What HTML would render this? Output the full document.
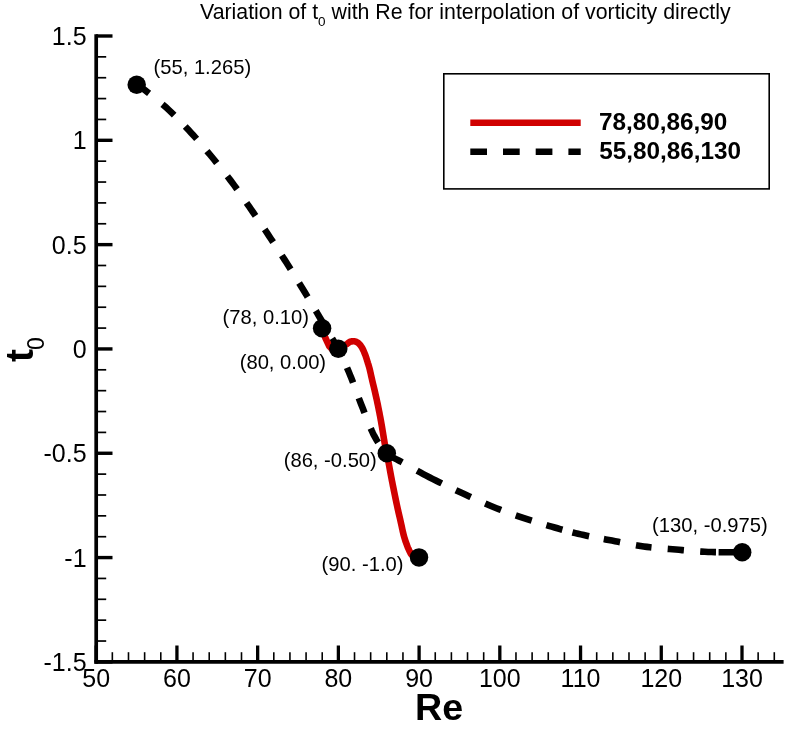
<!DOCTYPE html>
<html><head><meta charset="utf-8"><title>Variation of t0 with Re</title>
<style>
html,body{margin:0;padding:0;background:#fff;width:785px;height:734px;overflow:hidden}
svg{display:block}
text{font-family:"Liberation Sans",Arial,Helvetica,sans-serif;fill:#000}
.tk{font-size:25px}
.pl{font-size:20.2px}
.lg{font-size:24.3px;font-weight:bold}
</style></head><body>
<svg width="785" height="734" viewBox="0 0 785 734">
<rect width="785" height="734" fill="#fff"/>
<text x="200" y="18.5" font-size="21.32">Variation of t<tspan font-size="13.5" dy="7">0</tspan><tspan dy="-7"> with Re for interpolation of vorticity directly</tspan></text>
<line x1="96.2" y1="34.3" x2="96.2" y2="663.7" stroke="#000" stroke-width="3.7"/><line x1="94.35" y1="661.9" x2="783.6" y2="661.9" stroke="#000" stroke-width="3.7"/><line x1="96" y1="36.00" x2="112.5" y2="36.00" stroke="#000" stroke-width="3.4"/><line x1="96" y1="56.86" x2="106.2" y2="56.86" stroke="#000" stroke-width="1.7"/><line x1="96" y1="77.73" x2="106.2" y2="77.73" stroke="#000" stroke-width="1.7"/><line x1="96" y1="98.59" x2="106.2" y2="98.59" stroke="#000" stroke-width="1.7"/><line x1="96" y1="119.45" x2="106.2" y2="119.45" stroke="#000" stroke-width="1.7"/><line x1="96" y1="140.31" x2="112.5" y2="140.31" stroke="#000" stroke-width="3.4"/><line x1="96" y1="161.18" x2="106.2" y2="161.18" stroke="#000" stroke-width="1.7"/><line x1="96" y1="182.04" x2="106.2" y2="182.04" stroke="#000" stroke-width="1.7"/><line x1="96" y1="202.90" x2="106.2" y2="202.90" stroke="#000" stroke-width="1.7"/><line x1="96" y1="223.77" x2="106.2" y2="223.77" stroke="#000" stroke-width="1.7"/><line x1="96" y1="244.63" x2="112.5" y2="244.63" stroke="#000" stroke-width="3.4"/><line x1="96" y1="265.49" x2="106.2" y2="265.49" stroke="#000" stroke-width="1.7"/><line x1="96" y1="286.36" x2="106.2" y2="286.36" stroke="#000" stroke-width="1.7"/><line x1="96" y1="307.22" x2="106.2" y2="307.22" stroke="#000" stroke-width="1.7"/><line x1="96" y1="328.08" x2="106.2" y2="328.08" stroke="#000" stroke-width="1.7"/><line x1="96" y1="348.94" x2="112.5" y2="348.94" stroke="#000" stroke-width="3.4"/><line x1="96" y1="369.81" x2="106.2" y2="369.81" stroke="#000" stroke-width="1.7"/><line x1="96" y1="390.67" x2="106.2" y2="390.67" stroke="#000" stroke-width="1.7"/><line x1="96" y1="411.53" x2="106.2" y2="411.53" stroke="#000" stroke-width="1.7"/><line x1="96" y1="432.40" x2="106.2" y2="432.40" stroke="#000" stroke-width="1.7"/><line x1="96" y1="453.26" x2="112.5" y2="453.26" stroke="#000" stroke-width="3.4"/><line x1="96" y1="474.12" x2="106.2" y2="474.12" stroke="#000" stroke-width="1.7"/><line x1="96" y1="494.99" x2="106.2" y2="494.99" stroke="#000" stroke-width="1.7"/><line x1="96" y1="515.85" x2="106.2" y2="515.85" stroke="#000" stroke-width="1.7"/><line x1="96" y1="536.71" x2="106.2" y2="536.71" stroke="#000" stroke-width="1.7"/><line x1="96" y1="557.58" x2="112.5" y2="557.58" stroke="#000" stroke-width="3.4"/><line x1="96" y1="578.44" x2="106.2" y2="578.44" stroke="#000" stroke-width="1.7"/><line x1="96" y1="599.30" x2="106.2" y2="599.30" stroke="#000" stroke-width="1.7"/><line x1="96" y1="620.16" x2="106.2" y2="620.16" stroke="#000" stroke-width="1.7"/><line x1="96" y1="641.03" x2="106.2" y2="641.03" stroke="#000" stroke-width="1.7"/><line x1="96" y1="661.89" x2="112.5" y2="661.89" stroke="#000" stroke-width="3.4"/><line x1="96.20" y1="662" x2="96.20" y2="645.5" stroke="#000" stroke-width="3.3"/><line x1="112.34" y1="662" x2="112.34" y2="652.2" stroke="#000" stroke-width="1.6"/><line x1="128.49" y1="662" x2="128.49" y2="652.2" stroke="#000" stroke-width="1.6"/><line x1="144.63" y1="662" x2="144.63" y2="652.2" stroke="#000" stroke-width="1.6"/><line x1="160.78" y1="662" x2="160.78" y2="652.2" stroke="#000" stroke-width="1.6"/><line x1="176.93" y1="662" x2="176.93" y2="645.5" stroke="#000" stroke-width="3.3"/><line x1="193.07" y1="662" x2="193.07" y2="652.2" stroke="#000" stroke-width="1.6"/><line x1="209.22" y1="662" x2="209.22" y2="652.2" stroke="#000" stroke-width="1.6"/><line x1="225.36" y1="662" x2="225.36" y2="652.2" stroke="#000" stroke-width="1.6"/><line x1="241.50" y1="662" x2="241.50" y2="652.2" stroke="#000" stroke-width="1.6"/><line x1="257.65" y1="662" x2="257.65" y2="645.5" stroke="#000" stroke-width="3.3"/><line x1="273.80" y1="662" x2="273.80" y2="652.2" stroke="#000" stroke-width="1.6"/><line x1="289.94" y1="662" x2="289.94" y2="652.2" stroke="#000" stroke-width="1.6"/><line x1="306.08" y1="662" x2="306.08" y2="652.2" stroke="#000" stroke-width="1.6"/><line x1="322.23" y1="662" x2="322.23" y2="652.2" stroke="#000" stroke-width="1.6"/><line x1="338.38" y1="662" x2="338.38" y2="645.5" stroke="#000" stroke-width="3.3"/><line x1="354.52" y1="662" x2="354.52" y2="652.2" stroke="#000" stroke-width="1.6"/><line x1="370.66" y1="662" x2="370.66" y2="652.2" stroke="#000" stroke-width="1.6"/><line x1="386.81" y1="662" x2="386.81" y2="652.2" stroke="#000" stroke-width="1.6"/><line x1="402.95" y1="662" x2="402.95" y2="652.2" stroke="#000" stroke-width="1.6"/><line x1="419.10" y1="662" x2="419.10" y2="645.5" stroke="#000" stroke-width="3.3"/><line x1="435.25" y1="662" x2="435.25" y2="652.2" stroke="#000" stroke-width="1.6"/><line x1="451.39" y1="662" x2="451.39" y2="652.2" stroke="#000" stroke-width="1.6"/><line x1="467.53" y1="662" x2="467.53" y2="652.2" stroke="#000" stroke-width="1.6"/><line x1="483.68" y1="662" x2="483.68" y2="652.2" stroke="#000" stroke-width="1.6"/><line x1="499.82" y1="662" x2="499.82" y2="645.5" stroke="#000" stroke-width="3.3"/><line x1="515.97" y1="662" x2="515.97" y2="652.2" stroke="#000" stroke-width="1.6"/><line x1="532.12" y1="662" x2="532.12" y2="652.2" stroke="#000" stroke-width="1.6"/><line x1="548.26" y1="662" x2="548.26" y2="652.2" stroke="#000" stroke-width="1.6"/><line x1="564.40" y1="662" x2="564.40" y2="652.2" stroke="#000" stroke-width="1.6"/><line x1="580.55" y1="662" x2="580.55" y2="645.5" stroke="#000" stroke-width="3.3"/><line x1="596.70" y1="662" x2="596.70" y2="652.2" stroke="#000" stroke-width="1.6"/><line x1="612.84" y1="662" x2="612.84" y2="652.2" stroke="#000" stroke-width="1.6"/><line x1="628.99" y1="662" x2="628.99" y2="652.2" stroke="#000" stroke-width="1.6"/><line x1="645.13" y1="662" x2="645.13" y2="652.2" stroke="#000" stroke-width="1.6"/><line x1="661.27" y1="662" x2="661.27" y2="645.5" stroke="#000" stroke-width="3.3"/><line x1="677.42" y1="662" x2="677.42" y2="652.2" stroke="#000" stroke-width="1.6"/><line x1="693.57" y1="662" x2="693.57" y2="652.2" stroke="#000" stroke-width="1.6"/><line x1="709.71" y1="662" x2="709.71" y2="652.2" stroke="#000" stroke-width="1.6"/><line x1="725.86" y1="662" x2="725.86" y2="652.2" stroke="#000" stroke-width="1.6"/><line x1="742.00" y1="662" x2="742.00" y2="645.5" stroke="#000" stroke-width="3.3"/><line x1="758.14" y1="662" x2="758.14" y2="652.2" stroke="#000" stroke-width="1.6"/><line x1="774.29" y1="662" x2="774.29" y2="652.2" stroke="#000" stroke-width="1.6"/>
<text x="86.6" y="45.10" text-anchor="end" class="tk">1.5</text><text x="86.6" y="149.41" text-anchor="end" class="tk">1</text><text x="86.6" y="253.73" text-anchor="end" class="tk">0.5</text><text x="86.6" y="358.05" text-anchor="end" class="tk">0</text><text x="86.6" y="462.36" text-anchor="end" class="tk">-0.5</text><text x="86.6" y="566.68" text-anchor="end" class="tk">-1</text><text x="86.6" y="670.99" text-anchor="end" class="tk">-1.5</text><text x="96.20" y="686.9" text-anchor="middle" class="tk">50</text><text x="176.93" y="686.9" text-anchor="middle" class="tk">60</text><text x="257.65" y="686.9" text-anchor="middle" class="tk">70</text><text x="338.38" y="686.9" text-anchor="middle" class="tk">80</text><text x="419.10" y="686.9" text-anchor="middle" class="tk">90</text><text x="499.82" y="686.9" text-anchor="middle" class="tk">100</text><text x="580.55" y="686.9" text-anchor="middle" class="tk">110</text><text x="661.27" y="686.9" text-anchor="middle" class="tk">120</text><text x="742.00" y="686.9" text-anchor="middle" class="tk">130</text>
<text x="417.8" y="720" font-size="37.7" font-weight="bold" text-anchor="start" dx="-2.8">Re</text>
<g transform="translate(32.7,362.0) rotate(-90)"><text x="0" y="0" font-size="39" font-weight="bold">t<tspan font-size="23" font-weight="normal" dy="11" dx="-1.0">0</tspan></text></g>
<path d="M136.70,84.80 L137.27,85.12 L137.70,85.33 L138.06,85.47 L138.40,85.59 L138.78,85.75 L139.25,85.99 L139.87,86.37 L140.70,86.92 L141.79,87.72 L143.20,88.80 L144.98,90.19 L147.09,91.85 L149.48,93.73 L152.08,95.80 L154.82,98.01 L157.64,100.31 L160.48,102.67 L163.27,105.03 L165.95,107.35 L168.45,109.60 L170.82,111.81 L173.16,114.05 L175.47,116.31 L177.74,118.60 L180.00,120.90 L182.23,123.23 L184.44,125.57 L186.64,127.92 L188.82,130.28 L191.00,132.65 L193.16,135.03 L195.29,137.41 L197.41,139.82 L199.50,142.23 L201.58,144.66 L203.66,147.10 L205.72,149.55 L207.78,152.02 L209.84,154.50 L211.90,157.00 L213.97,159.51 L216.04,162.05 L218.11,164.60 L220.18,167.16 L222.23,169.73 L224.28,172.32 L226.32,174.92 L228.33,177.52 L230.33,180.13 L232.30,182.75 L234.25,185.38 L236.17,188.02 L238.07,190.67 L239.96,193.34 L241.83,196.01 L243.69,198.68 L245.54,201.35 L247.38,204.03 L249.22,206.69 L251.05,209.35 L252.88,212.00 L254.69,214.65 L256.50,217.29 L258.30,219.94 L260.09,222.58 L261.87,225.22 L263.65,227.86 L265.42,230.51 L267.19,233.15 L268.95,235.80 L270.70,238.45 L272.45,241.09 L274.19,243.72 L275.92,246.36 L277.65,249.00 L279.37,251.65 L281.09,254.30 L282.81,256.97 L284.53,259.65 L286.25,262.35 L287.97,265.07 L289.70,267.80 L291.43,270.55 L293.15,273.31 L294.88,276.08 L296.59,278.85 L298.31,281.63 L300.01,284.40 L301.71,287.18 L303.40,289.95 L305.10,292.75 L306.82,295.62 L308.55,298.51 L310.28,301.42 L312.00,304.31 L313.68,307.17 L315.33,309.95 L316.92,312.66 L318.45,315.25 L319.90,317.70 L321.28,320.04 L322.61,322.31 L323.89,324.50 L325.12,326.61 L326.31,328.63 L327.44,330.58 L328.53,332.44 L329.57,334.22 L330.56,335.90 L331.50,337.50 L332.35,338.90 L333.09,340.05 L333.73,341.01 L334.32,341.86 L334.88,342.68 L335.45,343.53 L336.04,344.49 L336.69,345.62 L337.44,347.00 L338.30,348.70 L339.28,350.71 L340.35,352.96 L341.49,355.41 L342.69,358.02 L343.93,360.76 L345.19,363.59 L346.46,366.49 L347.72,369.41 L348.96,372.33 L350.15,375.20 L351.31,378.08 L352.46,381.02 L353.59,384.02 L354.73,387.05 L355.86,390.12 L356.99,393.21 L358.14,396.30 L359.29,399.39 L360.46,402.46 L361.65,405.50 L362.86,408.58 L364.08,411.74 L365.32,414.95 L366.57,418.18 L367.83,421.37 L369.09,424.50 L370.36,427.54 L371.62,430.43 L372.89,433.15 L374.15,435.65 L375.40,437.95 L376.63,440.10 L377.85,442.11 L379.07,443.98 L380.29,445.74 L381.53,447.39 L382.80,448.95 L384.09,450.43 L385.42,451.84 L386.80,453.20 L388.18,454.43 L389.52,455.47 L390.85,456.37 L392.20,457.17 L393.59,457.91 L395.06,458.64 L396.63,459.41 L398.32,460.24 L400.17,461.19 L402.20,462.30 L404.41,463.55 L406.76,464.89 L409.26,466.30 L411.87,467.78 L414.59,469.31 L417.41,470.87 L420.31,472.46 L423.27,474.06 L426.29,475.66 L429.35,477.25 L432.51,478.86 L435.83,480.51 L439.26,482.20 L442.77,483.92 L446.34,485.63 L449.91,487.34 L453.47,489.03 L456.97,490.68 L460.37,492.27 L463.65,493.80 L466.81,495.27 L469.88,496.69 L472.88,498.07 L475.84,499.42 L478.76,500.74 L481.66,502.03 L484.56,503.30 L487.47,504.55 L490.41,505.78 L493.40,507.00 L496.42,508.20 L499.46,509.38 L502.50,510.54 L505.56,511.67 L508.62,512.79 L511.68,513.88 L514.75,514.96 L517.82,516.02 L520.89,517.07 L523.95,518.10 L527.03,519.12 L530.15,520.13 L533.29,521.12 L536.44,522.10 L539.57,523.06 L542.69,524.00 L545.77,524.92 L548.80,525.81 L551.76,526.67 L554.65,527.50 L557.43,528.29 L560.10,529.05 L562.69,529.78 L565.22,530.47 L567.73,531.15 L570.23,531.81 L572.77,532.46 L575.37,533.10 L578.05,533.75 L580.85,534.40 L583.76,535.05 L586.75,535.69 L589.80,536.32 L592.91,536.95 L596.05,537.57 L599.23,538.18 L602.42,538.79 L605.61,539.39 L608.79,540.00 L611.95,540.60 L615.10,541.21 L618.25,541.84 L621.42,542.47 L624.59,543.10 L627.76,543.72 L630.94,544.32 L634.13,544.91 L637.32,545.46 L640.51,545.98 L643.70,546.45 L646.89,546.87 L650.09,547.26 L653.30,547.60 L656.51,547.92 L659.72,548.22 L662.93,548.49 L666.14,548.76 L669.36,549.02 L672.58,549.28 L675.80,549.55 L679.01,549.83 L682.22,550.11 L685.42,550.39 L688.62,550.66 L691.83,550.92 L695.04,551.17 L698.27,551.40 L701.52,551.61 L704.80,551.80 L708.10,551.95 L711.44,552.07 L714.80,552.15 L718.20,552.21 L721.61,552.24 L725.04,552.25 L728.47,552.26 L731.91,552.26 L735.35,552.26 L738.78,552.27 L742.20,552.30" fill="none" stroke="#000" stroke-width="6.6" stroke-dasharray="15.17 17.32 15.79 15.91 16.90 15.90 15.49 17.01 16.20 16.56 15.79 16.39 15.31 15.86 16.35 16.11 16.41 16.05 16.05 16.02 16.39 16.64 16.04 16.43 15.90 16.67 15.89 13.88 17.96 17.17 27.67 15.70 16.45 15.76 17.15 15.62 16.81 15.38 16.62 10.39 17.06 15.01 16.57 16.17 15.68 16.27 16.27 16.34 15.83 2.59 23.60 10.00" stroke-linejoin="round"/>
<path d="M322.1,328.3 L325.2,337.5 L329.3,346.3 L333,350.2 L338.3,348.7 L342.6,346.3 L346.80,344.10 L347.20,343.80 L347.59,343.48 L347.99,343.16 L348.38,342.84 L348.78,342.53 L349.18,342.25 L349.59,342.00 L350.00,341.80 L350.43,341.64 L350.87,341.52 L351.33,341.44 L351.78,341.38 L352.23,341.34 L352.67,341.31 L353.10,341.30 L353.50,341.30 L353.88,341.31 L354.23,341.33 L354.58,341.36 L354.91,341.41 L355.23,341.48 L355.55,341.57 L355.87,341.67 L356.20,341.80 L356.53,341.95 L356.86,342.11 L357.19,342.29 L357.51,342.49 L357.84,342.71 L358.16,342.96 L358.48,343.22 L358.80,343.50 L359.12,343.81 L359.44,344.13 L359.76,344.48 L360.08,344.85 L360.39,345.24 L360.70,345.64 L361.00,346.06 L361.30,346.50 L361.59,346.95 L361.87,347.41 L362.14,347.88 L362.41,348.37 L362.68,348.89 L362.95,349.43 L363.22,350.00 L363.50,350.60 L363.79,351.25 L364.08,351.94 L364.38,352.67 L364.68,353.42 L364.98,354.18 L365.26,354.94 L365.54,355.68 L365.80,356.40 L366.04,357.09 L366.27,357.78 L366.48,358.45 L366.69,359.12 L366.89,359.79 L367.09,360.45 L367.29,361.12 L367.50,361.80 L367.72,362.48 L367.93,363.17 L368.16,363.86 L368.38,364.55 L368.59,365.24 L368.80,365.93 L369.01,366.62 L369.20,367.30 L369.38,367.98 L369.55,368.65 L369.72,369.31 L369.87,369.97 L370.03,370.64 L370.18,371.32 L370.34,372.00 L370.50,372.70 L370.64,373.33 L370.76,373.86 L370.86,374.35 L370.97,374.87 L371.10,375.49 L371.27,376.28 L371.50,377.29 L371.80,378.60 L372.19,380.27 L372.66,382.25 L373.20,384.47 L373.77,386.85 L374.36,389.31 L374.94,391.78 L375.49,394.17 L376.00,396.40 L376.47,398.53 L376.93,400.64 L377.37,402.74 L377.81,404.81 L378.23,406.84 L378.63,408.84 L379.02,410.80 L379.40,412.70 L379.75,414.52 L380.08,416.25 L380.39,417.91 L380.69,419.55 L380.99,421.19 L381.28,422.85 L381.58,424.58 L381.90,426.40 L382.23,428.35 L382.57,430.43 L382.92,432.58 L383.27,434.75 L383.62,436.90 L383.96,438.97 L384.29,440.92 L384.60,442.70 L384.90,444.29 L385.19,445.74 L385.47,447.08 L385.75,448.34 L386.02,449.55 L386.28,450.75 L386.54,451.95 L386.80,453.20 L387.05,454.45 L387.28,455.65 L387.51,456.83 L387.73,458.01 L387.96,459.21 L388.19,460.46 L388.44,461.78 L388.70,463.20 L388.98,464.73 L389.28,466.36 L389.59,468.05 L389.91,469.80 L390.23,471.57 L390.55,473.34 L390.88,475.09 L391.20,476.80 L391.51,478.45 L391.82,480.05 L392.13,481.64 L392.44,483.23 L392.76,484.83 L393.09,486.48 L393.44,488.20 L393.80,490.00 L394.18,491.90 L394.59,493.88 L395.00,495.92 L395.43,498.01 L395.87,500.12 L396.31,502.23 L396.76,504.33 L397.20,506.40 L397.65,508.46 L398.12,510.55 L398.60,512.66 L399.07,514.75 L399.55,516.82 L400.02,518.85 L400.47,520.81 L400.90,522.70 L401.30,524.52 L401.69,526.28 L402.05,527.99 L402.41,529.65 L402.76,531.27 L403.12,532.85 L403.50,534.39 L403.90,535.90 L404.32,537.38 L404.76,538.82 L405.21,540.23 L405.67,541.60 L406.13,542.92 L406.59,544.20 L407.05,545.43 L407.50,546.60 L407.94,547.70 L408.38,548.72 L408.82,549.68 L409.26,550.59 L409.69,551.49 L410.13,552.37 L410.56,553.27 L411.00,554.20 L419,557.4" fill="none" stroke="#d00000" stroke-width="6.6" stroke-linejoin="round"/>
<g fill="#000"><circle cx="136.7" cy="84.8" r="9.25"/><circle cx="322.1" cy="328.3" r="9.25"/><circle cx="338.3" cy="348.7" r="9.25"/><circle cx="386.8" cy="453.2" r="9.25"/><circle cx="419" cy="557.4" r="9.25"/><circle cx="742.2" cy="552.3" r="9.25"/></g>
<text class="pl" x="154.8" y="74.4" dx="-1.3">(55, 1.265)</text>
<text class="pl" x="223.9" y="323.7" dx="-1.3">(78, 0.10)</text>
<text class="pl" x="241" y="368.8" dx="-1.3">(80, 0.00)</text>
<text class="pl" x="285" y="466.6" dx="-1.3">(86, -0.50)</text>
<text class="pl" x="322.9" y="570.6" dx="-1.3">(90. -1.0)</text>
<text class="pl" x="653.4" y="531.8" dx="-1.3">(130, -0.975)</text>
<rect x="443.8" y="73.8" width="325.4" height="115.1" fill="none" stroke="#000" stroke-width="1.6"/>
<line x1="470.3" y1="122.8" x2="580.7" y2="122.8" stroke="#d00000" stroke-width="6.6"/>
<line x1="470.3" y1="151.7" x2="580.7" y2="151.7" stroke="#000" stroke-width="6.6" stroke-dasharray="16.7 16"/>
<text class="lg" x="599.9" y="129.8" dx="-1">78,80,86,90</text>
<text class="lg" x="600.2" y="158.5" dx="-1">55,80,86,130</text>
</svg>
</body></html>
